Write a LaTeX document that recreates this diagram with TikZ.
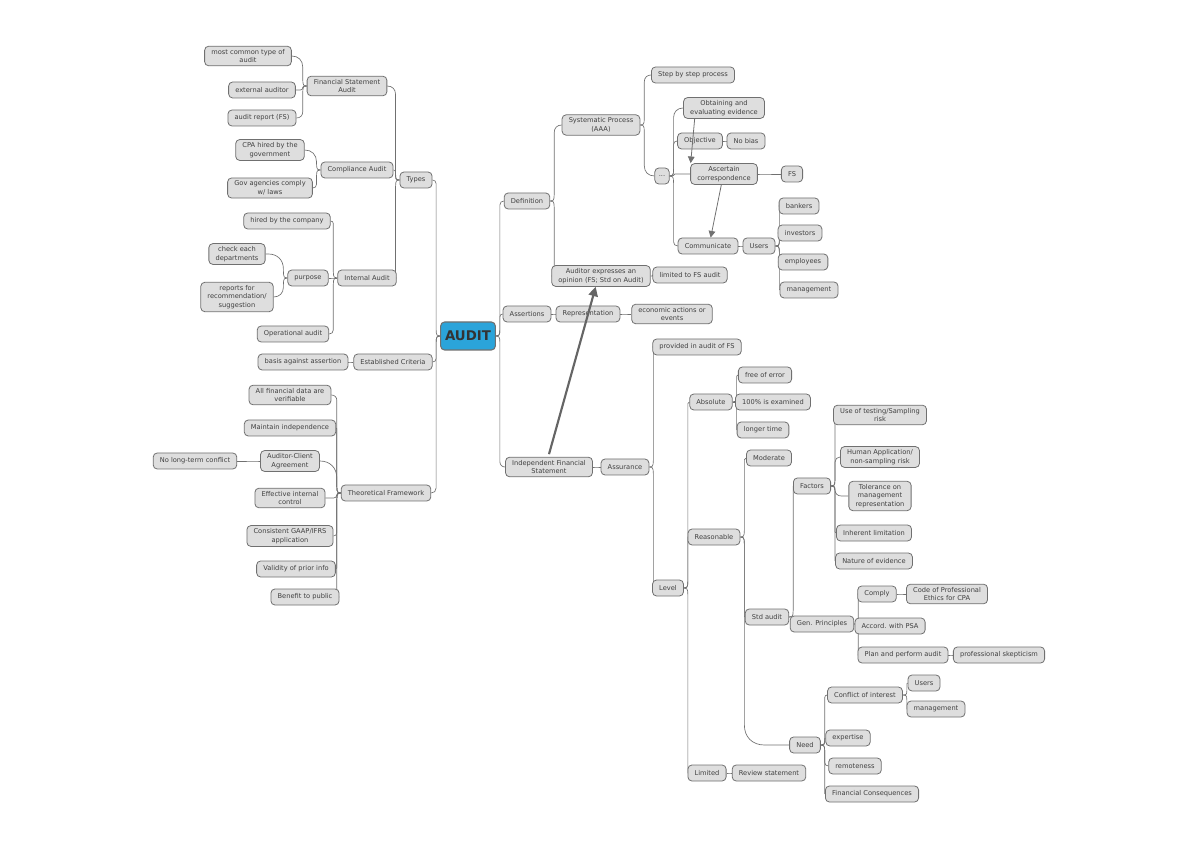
\documentclass[tikz,border=0pt]{standalone}
\usepackage{fontspec}
\setmainfont{DejaVu Sans}
\usetikzlibrary{arrows.meta,calc}
\pgfdeclarelayer{bg}
\pgfsetlayers{bg,main}
\definecolor{bx}{HTML}{DEDEDE}
\definecolor{ln}{HTML}{707070}
\definecolor{au}{HTML}{2BA4DA}
\tikzset{
  bb/.style={draw=ln,fill=bx,rounded corners=3pt,line width=0.6pt,align=center,inner xsep=5pt,inner ysep=2.2pt,minimum height=12pt,font=\fontsize{5}{6.4}\selectfont,text=black!75},
  conn/.style={draw=ln,line width=0.5pt},
  big/.style={draw=ln!90!black,line width=1.6pt,-{Triangle[length=7pt,width=7pt]}},
  sm/.style={draw=ln,line width=0.6pt,-{Triangle[length=5pt,width=5pt]}}
}
\newcommand{\cX}[3]{%
\draw[conn] let \p1=(#1), \p2=(#2), \n1={sign(\y2-\y1)}, \n2={max(0,min(15,abs(\y2-\y1)/1.6,abs(\x2-\x1)-3))}, \n3={min(5,abs(\y2-\y1)/3)} in
 (\p1) .. controls ({\x1+(#3)*2pt},\y1) and ({\x1+(#3)*3pt},\y1) .. ({\x1+(#3)*3pt},{\y1+\n1*\n3*1pt})
 -- ({\x1+(#3)*3pt},{\y2-\n1*\n2*1pt}) .. controls ({\x1+(#3)*3pt},{\y2-\n1*0.4*\n2*1pt}) and ({\x1+(#3)*(3+0.4*\n2)*1pt},\y2) .. ({\x1+(#3)*(3+\n2)*1pt},\y2) -- (\p2);}
\newcommand{\cR}[2]{\cX{#1.east}{#2.west}{1}}
\newcommand{\cL}[2]{\cX{#1.west}{#2.east}{-1}}
\begin{document}
\begin{tikzpicture}[x=0.75pt,y=-0.75pt]
\useasboundingbox (0,0) rectangle (1200,848);
% left
\node[bb] (types) at (416,180) {Types};
\node[bb] (fsa) at (347,86) {Financial Statement\\Audit};
\node[bb] (fsa1) at (248,56) {most common type of\\audit};
\node[bb] (fsa2) at (262,90) {external auditor};
\node[bb] (fsa3) at (262,118) {audit report (FS)};
\node[bb] (comp) at (357,170) {Compliance Audit};
\node[bb] (comp1) at (270,150) {CPA hired by the\\government};
\node[bb] (comp2) at (270,188) {Gov agencies comply\\w/ laws};
\node[bb] (int) at (367,278) {Internal Audit};
\node[bb] (int1) at (287,221) {hired by the company};
\node[bb] (purp) at (308,278) {purpose};
\node[bb] (p1) at (237,254) {check each\\departments};
\node[bb] (p2) at (237,297) {reports for\\recommendation/\\suggestion};
\node[bb] (int3) at (293,334) {Operational audit};
\node[bb] (est) at (393,362) {Established Criteria};
\node[bb] (est1) at (303,362) {basis against assertion};
\node[bb] (theo) at (386,493) {Theoretical Framework};
\node[bb] (t1) at (290,395) {All financial data are\\verifiable};
\node[bb] (t2) at (290,428) {Maintain independence};
\node[bb] (t3) at (290,461) {Auditor-Client\\Agreement};
\node[bb] (t3a) at (195,461) {No long-term conflict};
\node[bb] (t4) at (290,498) {Effective internal\\control};
\node[bb] (t5) at (290,536) {Consistent GAAP/IFRS\\application};
\node[bb] (t6) at (296,569) {Validity of prior info};
\node[bb] (t7) at (305,597) {Benefit to public};
% right
\node[bb] (def) at (527,201) {Definition};
\node[bb] (sys) at (601,125) {Systematic Process\\(AAA)};
\node[bb] (sys1) at (693,75) {Step by step process};
\node[bb,inner xsep=3pt] (dots) at (662,176) {...};
\node[bb] (obt) at (724,108) {Obtaining and\\evaluating evidence};
\node[bb] (obj) at (700,141) {Objective};
\node[bb] (nob) at (746,141) {No bias};
\node[bb] (asc) at (724,174) {Ascertain\\correspondence};
\node[bb] (fs) at (792,174) {FS};
\node[bb] (comm) at (708,246) {Communicate};
\node[bb] (users) at (759,246) {Users};
\node[bb] (u1) at (799,206) {bankers};
\node[bb] (u2) at (800,233) {investors};
\node[bb] (u3) at (803,262) {employees};
\node[bb] (u4) at (809,290) {management};
\node[bb] (opin) at (601,276) {Auditor expresses an\\opinion (FS; Std on Audit)};
\node[bb] (lim) at (690,275) {limited to FS audit};
\node[bb] (asser) at (527,314) {Assertions};
\node[bb] (rep) at (588,314) {Representation};
\node[bb] (econ) at (672,314) {economic actions or\\events};
\node[bb] (ind) at (549,467) {Independent Financial\\Statement};
\node[bb] (assur) at (625,467) {Assurance};
\node[bb] (prov) at (697,347) {provided in audit of FS};
\node[bb] (level) at (668,588) {Level};
\node[bb] (abs) at (711,402) {Absolute};
\node[bb] (a1) at (765,375) {free of error};
\node[bb] (a2) at (773,402) {100\% is examined};
\node[bb] (a3) at (763,430) {longer time};
\node[bb] (reas) at (714,537) {Reasonable};
\node[bb] (mod) at (769,458) {Moderate};
\node[bb] (std) at (767,617) {Std audit};
\node[bb] (fact) at (812,486) {Factors};
\node[bb] (f1) at (880,415) {Use of testing/Sampling\\risk};
\node[bb] (f2) at (880,457) {Human Application/\\non-sampling risk};
\node[bb] (f3) at (880,496) {Tolerance on\\management\\representation};
\node[bb] (f4) at (874,533) {Inherent limitation};
\node[bb] (f5) at (874,561) {Nature of evidence};
\node[bb] (gen) at (822,624) {Gen. Principles};
\node[bb] (comply) at (877,594) {Comply};
\node[bb] (code) at (947,594) {Code of Professional\\Ethics for CPA};
\node[bb] (accord) at (890,626) {Accord. with PSA};
\node[bb] (plan) at (903,655) {Plan and perform audit};
\node[bb] (pskep) at (999,655) {professional skepticism};
\node[bb] (need) at (805,745) {Need};
\node[bb] (conf) at (865,695) {Conflict of interest};
\node[bb] (cu) at (924,683) {Users};
\node[bb] (cm) at (936,709) {management};
\node[bb] (exp) at (848,738) {expertise};
\node[bb] (rem) at (855,766) {remoteness};
\node[bb] (fin) at (872,794) {Financial Consequences};
\node[bb] (limd) at (707,773) {Limited};
\node[bb] (rev) at (769,773) {Review statement};
\node[draw=ln,fill=au,rounded corners=3pt,line width=0.8pt,minimum width=39pt,minimum height=21pt,font=\bfseries\fontsize{10}{12}\selectfont,text=black!80] (audit) at (468,336) {AUDIT};
\begin{pgfonlayer}{bg}
\cL{audit}{types}\cL{audit}{est}\cL{audit}{theo}
\cR{audit}{def}\cR{audit}{asser}\cR{audit}{ind}
\cL{types}{fsa}\cL{types}{comp}\cL{types}{int}
\cL{fsa}{fsa1}\cL{fsa}{fsa2}\cL{fsa}{fsa3}
\cL{comp}{comp1}\cL{comp}{comp2}
\cL{int}{int1}\cL{int}{purp}\cL{int}{int3}
\cL{purp}{p1}\cL{purp}{p2}
\cL{est}{est1}
\cL{theo}{t1}\cL{theo}{t2}\cL{theo}{t3}\cL{theo}{t4}\cL{theo}{t5}\cL{theo}{t6}\cL{theo}{t7}
\cL{t3}{t3a}
\cR{def}{sys}\cR{def}{opin}
\cR{sys}{sys1}\cR{sys}{dots}
\cR{dots}{obt}\cR{dots}{obj}\cR{dots}{asc}\cR{dots}{comm}
\cR{obj}{nob}\cR{asc}{fs}\cR{comm}{users}
\cR{users}{u1}\cR{users}{u2}\cR{users}{u3}\cR{users}{u4}
\cR{opin}{lim}
\cR{asser}{rep}\cR{rep}{econ}
\cR{ind}{assur}
\cR{assur}{prov}\cR{assur}{level}
\cR{level}{abs}\cR{level}{reas}\cR{level}{limd}
\cR{abs}{a1}\cR{abs}{a2}\cR{abs}{a3}
\cR{reas}{mod}\cR{reas}{std}\cR{reas}{need}
\cR{std}{fact}\cR{std}{gen}
\cR{fact}{f1}\cR{fact}{f2}\cR{fact}{f3}\cR{fact}{f4}\cR{fact}{f5}
\cR{gen}{comply}\cR{gen}{accord}\cR{gen}{plan}
\cR{comply}{code}\cR{plan}{pskep}
\cR{need}{conf}\cR{need}{exp}\cR{need}{rem}\cR{need}{fin}
\cR{conf}{cu}\cR{conf}{cm}
\cR{limd}{rev}
\end{pgfonlayer}
\draw[big] ([yshift=2pt]ind.north) -- ([xshift=-4pt]opin.south);
\draw[sm] ([xshift=-22pt]obt.south) -- ([xshift=-25pt]asc.north);
\draw[sm] ([xshift=-2pt]asc.south) -- ([xshift=2pt]comm.north);
\end{tikzpicture}
\end{document}
